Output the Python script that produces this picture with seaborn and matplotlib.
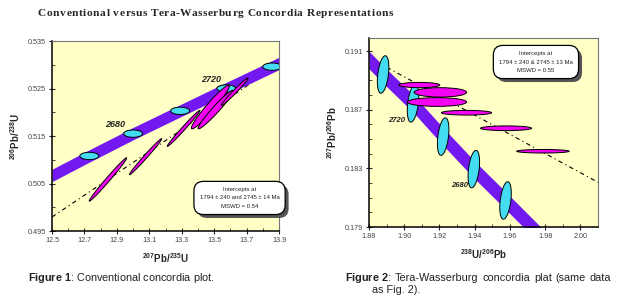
import numpy as np
import matplotlib
matplotlib.use("Agg")
import matplotlib.pyplot as plt
import matplotlib.patheffects as pe
from matplotlib.patches import Ellipse
from matplotlib.ticker import MultipleLocator, FormatStrFormatter
import seaborn as sns

# =============================================================================
# data
# =============================================================================
# conventional concordia: 207Pb/235U vs 206Pb/238U
conv_band_x = [12.5, 12.73, 13.0, 13.29, 13.575, 13.858, 13.9]
conv_band_y = [0.5067, 0.5108, 0.5155, 0.5203, 0.5250, 0.5296, 0.5303]
conv_age_x = [12.73, 13.0, 13.29, 13.575, 13.858]      # 2660 ... 2740 Ma
conv_age_y = [0.5108, 0.5155, 0.5203, 0.5250, 0.5296]
conv_x0 = [12.73, 12.978, 13.211, 13.361, 13.402, 13.545]
conv_y0 = [0.5013, 0.50686, 0.51282, 0.51654, 0.51654, 0.52146]
conv_x1 = [12.96, 13.176, 13.412, 13.592, 13.617, 13.709]
conv_y1 = [0.5104, 0.51444, 0.5204, 0.52567, 0.52461, 0.52721]
conv_ratio = [0.07, 0.07, 0.07, 0.14, 0.13, 0.09]
conv_disc_x = [12.5, 13.93]
conv_disc_y = [0.49795, 0.5308]
conv_xticks = [12.5, 12.7, 12.9, 13.1, 13.3, 13.5, 13.7, 13.9]
conv_yticks = [0.495, 0.505, 0.515, 0.525, 0.535]

# Tera-Wasserburg: 238U/206Pb vs 207Pb/206Pb
tw_band_x = [1.88, 1.888, 1.905, 1.9221, 1.9395, 1.9575, 1.98]
tw_band_y = [0.1904, 0.18941, 0.18744, 0.18517, 0.18295, 0.18081, 0.1781]
tw_age_x = [1.888, 1.905, 1.9221, 1.9395, 1.9575]
tw_age_y = [0.18941, 0.18744, 0.18517, 0.18295, 0.18081]
tw_xmin = [1.8969, 1.9056, 1.9018, 1.9211, 1.9433, 1.9638]
tw_xmax = [1.9202, 1.9354, 1.9354, 1.9496, 1.9723, 1.9937]
tw_y = [0.18869, 0.18819, 0.18753, 0.18680, 0.18574, 0.18417]
tw_dy = [0.00018, 0.00032, 0.00030, 0.00016, 0.00016, 0.00012]
tw_disc_x = [1.884, 2.01]
tw_disc_y = [0.1903, 0.18205]
tw_xticks = [1.88, 1.90, 1.92, 1.94, 1.96, 1.98, 2.00]
tw_yticks = [0.179, 0.183, 0.187, 0.191]

title = "Conventional versus Tera-Wasserburg Concordia Representations"
cap1 = r"$\mathbf{Figure\ 1}$: Conventional concordia plot."
cap2_words = [r"$\mathbf{Figure\ 2}$:", "Tera-Wasserburg", "concordia", "plat", "(same", "data"]
cap2_last = "as Fig. 2)."

BAND = "#7418f2"
CYAN = "#44dcf0"
MAG = "#f400f4"
FACE = "#ffffc6"

sns.set_style("ticks")
plt.rcParams["font.family"] = ["Liberation Sans", "DejaVu Sans"]
plt.rcParams["mathtext.fontset"] = "custom"
plt.rcParams["mathtext.rm"] = "Liberation Sans"
plt.rcParams["mathtext.bf"] = "Liberation Sans:bold"
plt.rcParams["mathtext.it"] = "Liberation Sans:italic"

fig = plt.figure(figsize=(6.23, 3.03), dpi=100)
ax1 = fig.add_axes([0.0835, 0.2376, 0.3644, 0.627])
ax2 = fig.add_axes([0.5923, 0.2508, 0.3676, 0.6238])
renderer = fig.canvas.get_renderer()


def tilted_ellipse(ax, c, end, ratio, **kw):
    # build ellipse in screen space so the shape is right on unequal axes
    p0 = ax.transData.transform(c)
    p1 = ax.transData.transform(end)
    u = p1 - p0
    v = np.array([-u[1], u[0]]) * ratio
    t = np.linspace(0, 2 * np.pi, 120)
    pts = p0 + np.outer(np.cos(t), u) + np.outer(np.sin(t), v)
    d = ax.transData.inverted().transform(pts)
    ax.fill(d[:, 0], d[:, 1], **kw)


def note(ax, x, y, s):
    t = ax.text(x, y, s, transform=ax.transAxes, fontsize=4.3, linespacing=1.85,
                ha="center", va="center", zorder=9, color="#222222",
                bbox=dict(boxstyle="round,pad=0.95,rounding_size=1.6",
                          fc="white", ec="black", lw=0.9))
    t.get_bbox_patch().set_path_effects(
        [pe.SimplePatchShadow(offset=(2.5, -2.5), shadow_rgbFace="#555555", alpha=1),
         pe.Normal()])


def style_axes(ax):
    ax.set_facecolor(FACE)
    for s in ["left", "bottom"]:
        ax.spines[s].set_color("black")
        ax.spines[s].set_linewidth(1.1)
    for s in ["top", "right"]:
        ax.spines[s].set_color("#777777")
        ax.spines[s].set_linewidth(0.8)
    ax.tick_params(which="major", direction="inout", length=5, width=0.8,
                   labelsize=5.2, labelcolor="#444444", pad=2)
    ax.tick_params(which="minor", direction="in", length=2.5, width=0.6)


def text_width(s, **kw):
    t = fig.text(0, 0, s, **kw)
    w = t.get_window_extent(renderer).width
    t.remove()
    return w


# ---------------- conventional ----------------
ax1.set_xlim(12.5, 13.9)
ax1.set_ylim(0.495, 0.535)
style_axes(ax1)
ax1.set_xticks(conv_xticks)
ax1.set_yticks(conv_yticks)
ax1.xaxis.set_minor_locator(MultipleLocator(0.1))
ax1.yaxis.set_minor_locator(MultipleLocator(0.005))
ax1.xaxis.set_major_formatter(FormatStrFormatter("%.1f"))
ax1.yaxis.set_major_formatter(FormatStrFormatter("%.3f"))

sns.lineplot(x=conv_disc_x, y=conv_disc_y, ax=ax1, color="black", lw=0.8,
             linestyle=(0, (4, 3, 1, 3)), zorder=1)
by = np.array(conv_band_y)
ax1.fill_between(conv_band_x, by - 0.0013, by + 0.0013, color=BAND, lw=0, zorder=2)
for x, y in zip(conv_age_x, conv_age_y):
    ax1.add_patch(Ellipse((x, y), 0.117, 0.00155, fc=CYAN, ec="black", lw=0.7, zorder=3))
for x0, y0, x1, y1, r in zip(conv_x0, conv_y0, conv_x1, conv_y1, conv_ratio):
    c = ((x0 + x1) / 2, (y0 + y1) / 2)
    tilted_ellipse(ax1, c, (x1, y1), r, fc=MAG, ec="black", lw=0.7, zorder=4)
ax1.text(12.889, 0.5174, "2680", fontsize=6.5, fontweight="bold", style="italic",
         ha="center", va="center", color="#222222")
ax1.text(13.484, 0.5269, "2720", fontsize=6.5, fontweight="bold", style="italic",
         ha="center", va="center", color="#222222")
note(ax1, 0.826, 0.174, "Intercepts at\n1794 ± 240 and 2745 ± 14 Ma\nMSWD = 0.54")
ax1.set_xlabel(r"$\mathbf{^{207}Pb/^{235}U}$", fontsize=7, labelpad=5)
ax1.set_ylabel(r"$\mathbf{^{206}Pb/^{238}U}$", fontsize=7, labelpad=4)

# ---------------- Tera-Wasserburg ----------------
ax2.set_xlim(1.88, 2.01)
ax2.set_ylim(0.179, 0.1919)
style_axes(ax2)
ax2.set_xticks(tw_xticks)
ax2.set_yticks(tw_yticks)
ax2.xaxis.set_minor_locator(MultipleLocator(0.01))
ax2.yaxis.set_minor_locator(MultipleLocator(0.001))
ax2.xaxis.set_major_formatter(FormatStrFormatter("%.2f"))
ax2.yaxis.set_major_formatter(FormatStrFormatter("%.3f"))

sns.lineplot(x=tw_disc_x, y=tw_disc_y, ax=ax2, color="black", lw=0.8,
             linestyle=(0, (4, 3, 1, 3)), zorder=1)
ty = np.array(tw_band_y)
ax2.fill_between(tw_band_x, ty - 0.0006, ty + 0.0006, color=BAND, lw=0, zorder=2)
for x, y in zip(tw_age_x, tw_age_y):
    tilted_ellipse(ax2, (x, y), (x + 0.00133, y + 0.00128), 0.28,
                   fc=CYAN, ec="black", lw=0.7, zorder=3)
for a, b, y, dy in zip(tw_xmin, tw_xmax, tw_y, tw_dy):
    ax2.add_patch(Ellipse(((a + b) / 2, y), b - a, 2 * dy, fc=MAG, ec="black",
                          lw=0.7, zorder=4))
ax2.text(1.8959, 0.1863, "2720", fontsize=5.5, fontweight="bold", style="italic",
         ha="center", va="center", color="#222222")
ax2.text(1.9312, 0.18181, "2680", fontsize=5.5, fontweight="bold", style="italic",
         ha="center", va="center", color="#222222")
note(ax2, 0.729, 0.873, "Intercepts at\n1794 ± 240 & 2745 ± 13 Ma\nMSWD = 0.55")
ax2.set_xlabel(r"$\mathbf{^{238}U/^{206}Pb}$", fontsize=7, labelpad=5)
ax2.set_ylabel(r"$\mathbf{^{207}Pb/^{206}Pb}$", fontsize=7, labelpad=4)

# ---------------- figure texts ----------------
# letter-spaced title, spread between x=38 and x=393 px
tkw = dict(family=["Liberation Serif", "DejaVu Serif"], fontweight="bold", fontsize=8.2)
bar = text_width("|", **tkw)
full = text_width(title + "|", **tkw) - bar
track = (393 - 38 - full) / (len(title) - 1)
for i, ch in enumerate(title):
    if ch == " ":
        continue
    xpx = 38 + (text_width(title[:i] + "|", **tkw) - bar if i else 0) + i * track
    fig.text(xpx / 623, 1 - 14 / 303, ch, ha="left", va="center", **tkw)

CAP = 7.8
ckw = dict(fontsize=CAP, color="#222222", ha="left", va="center")
fig.text(28 / 623, 1 - 278 / 303, cap1, **ckw)
# justified first line of caption 2 between x=345 and x=611 px
widths = [text_width(w, fontsize=CAP) for w in cap2_words]
gap = (611 - 345 - sum(widths)) / (len(cap2_words) - 1)
xpx = 345
for w, wd in zip(cap2_words, widths):
    fig.text(xpx / 623, 1 - 278 / 303, w, **ckw)
    xpx += wd + gap
fig.text(372 / 623, 1 - 290 / 303, cap2_last, **ckw)

fig.savefig("out.png", dpi=100)
